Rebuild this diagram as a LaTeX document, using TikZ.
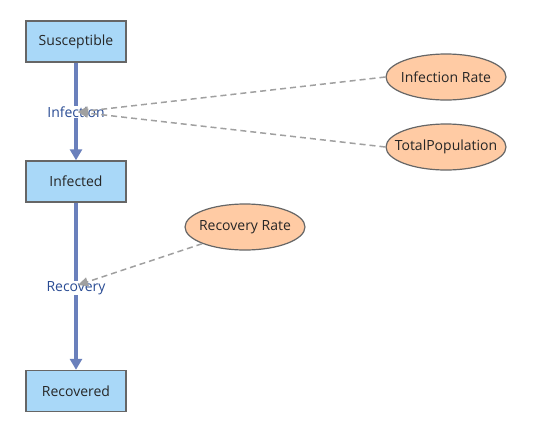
\documentclass[tikz,border=0pt]{standalone}
\usepackage{fontspec}
\setmainfont{Open Sans}
\usetikzlibrary{shapes.geometric,arrows.meta}
\definecolor{boxfill}{HTML}{A9D8F8}
\definecolor{boxline}{HTML}{666666}
\definecolor{ellfill}{HTML}{FFCBA4}
\definecolor{flowc}{HTML}{6A80BC}
\definecolor{labc}{HTML}{2A4C94}
\definecolor{dashc}{HTML}{A0A0A0}
\tikzset{
  stock/.style={draw=boxline, line width=1.4pt, fill=boxfill, minimum width=100pt, minimum height=41pt, inner sep=0pt, font=\fontsize{14}{16}\selectfont, text=black!85},
  param/.style={ellipse, draw=boxline, line width=1.2pt, fill=ellfill, minimum width=120pt, minimum height=46pt, inner xsep=-16pt, inner ysep=0pt, font=\fontsize{14}{16}\selectfont, text=black!85},
  flowlab/.style={fill=white, inner sep=0.5pt, text=labc, font=\fontsize{14}{16}\selectfont},
  flow/.style={draw=flowc, line width=3.2pt, -{Triangle[length=11pt,width=12pt]}},
  infl/.style={draw=dashc, line width=1.5pt, dash pattern=on 6pt off 4pt, -{Triangle[length=10pt,width=9pt]}},
}
\begin{document}
\begin{tikzpicture}[x=1pt,y=-1pt]
\useasboundingbox (0,0) rectangle (533,434);
\node[stock] (S) at (76,41.5) {Susceptible};
\node[stock] (I) at (76,181.5) {Infected};
\node[stock] (R) at (76,391) {Recovered};
\node[param] (ir) at (446,77) {Infection Rate};
\node[param] (tp) at (446,147) {TotalPopulation};
\node[param] (rr) at (245,227) {Recovery Rate};
\coordinate (fi) at (78,112);
\coordinate (fr) at (78,285);
\draw[flow] (S.south) -- (I.north);
\draw[flow] (I.south) -- (R.north);
\node[flowlab] (il) at (76,112) {Infection};
\node[flowlab] (rl) at (76,288) {Recovery};
\draw[infl] (ir.west) -- (fi);
\draw[infl] (tp.west) -- (fi);
\draw[infl] (rr.south west) -- (fr);
\end{tikzpicture}
\end{document}
